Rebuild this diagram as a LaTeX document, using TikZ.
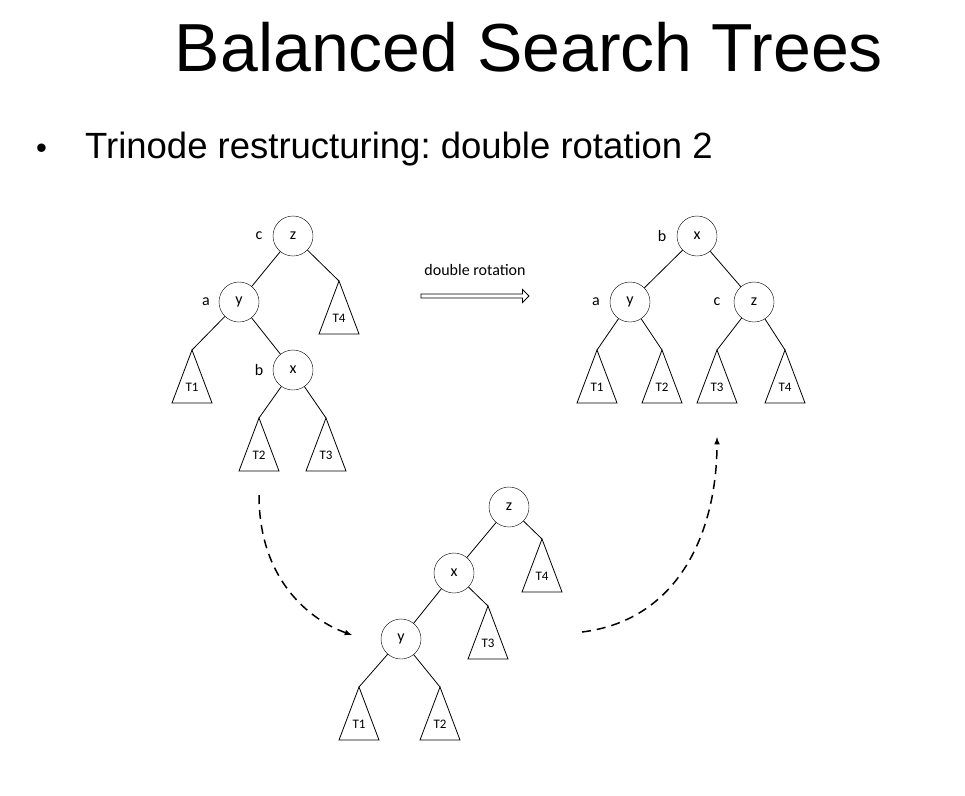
\documentclass[tikz,border=0pt]{standalone}
\usepackage{fontspec}
\setmainfont{Liberation Sans}
\newfontfamily\calfnt{Carlito}
\usetikzlibrary{shapes.arrows}
\frenchspacing
\begin{document}
\begin{tikzpicture}[x=1pt,y=-1pt,
  nd/.style={circle,draw,minimum size=40pt,inner sep=0pt,font=\calfnt\fontsize{16}{18}\selectfont},
  lb/.style={font=\calfnt\fontsize{16}{18}\selectfont},
  tl/.style={font=\calfnt\fontsize{13}{15}\selectfont},
  tri/.style={draw,line width=0.8pt},
  ed/.style={line width=0.8pt},
  dsh/.style={line width=1.5pt,dash pattern=on 9pt off 6pt,-latex}]
\useasboundingbox (0,0) rectangle (965,795);
\node[font=\fontsize{68}{76}\selectfont] (title) at (529,47) {Balanced Search Trees};
\node[anchor=base west,inner sep=0pt] (bulm) at (36,158) {\fontsize{31}{36}\selectfont •};
\node[anchor=base west,inner sep=0pt,font=\fontsize{36.5}{42}\selectfont] (bul) at (85,158) {Trinode restructuring: double rotation 2};
% tree 1
\node[nd] (z1) at (293,236) {z};
\node[nd] (y1) at (239,302) {y};
\node[nd] (x1) at (293,370) {x};
\node[lb] (c1) at (259,236) {c};
\node[lb] (a1) at (206,302) {a};
\node[lb] (b1) at (259,370) {b};
\coordinate (A4) at (339,281); \draw[tri] (A4) -- ++(20,53) -- ++(-40,0) -- cycle; \node[tl] (t14) at (339,318) {T4};
\coordinate (A1) at (192,350); \draw[tri] (A1) -- ++(20,53) -- ++(-40,0) -- cycle; \node[tl] (t11) at (192,387) {T1};
\coordinate (A2) at (259,418); \draw[tri] (A2) -- ++(20,53) -- ++(-40,0) -- cycle; \node[tl] (t12) at (259,455) {T2};
\coordinate (A3) at (326,418); \draw[tri] (A3) -- ++(20,53) -- ++(-40,0) -- cycle; \node[tl] (t13) at (326,455) {T3};
\draw[ed] (z1) -- (y1); \draw[ed] (z1) -- (A4); \draw[ed] (y1) -- (A1); \draw[ed] (y1) -- (x1);
\draw[ed] (x1) -- (A2); \draw[ed] (x1) -- (A3);
% arrow
\node[lb] (dr) at (475,270) {double rotation};
\node[single arrow,draw,line width=0.8pt,minimum height=108pt,minimum width=13pt,single arrow head extend=3pt,inner sep=1pt] (arr) at (474,296) {};
% tree 2
\node[nd] (x2) at (697,236) {x};
\node[nd] (y2) at (630,302) {y};
\node[nd] (z2) at (754,302) {z};
\node[lb] (b2) at (662,236) {b};
\node[lb] (a2) at (596,302) {a};
\node[lb] (c2) at (717,302) {c};
\coordinate (B1) at (597,350); \draw[tri] (B1) -- ++(20,53) -- ++(-40,0) -- cycle; \node[tl] (t21) at (597,387) {T1};
\coordinate (B2) at (662,350); \draw[tri] (B2) -- ++(20,53) -- ++(-40,0) -- cycle; \node[tl] (t22) at (662,387) {T2};
\coordinate (B3) at (717,350); \draw[tri] (B3) -- ++(20,53) -- ++(-40,0) -- cycle; \node[tl] (t23) at (717,387) {T3};
\coordinate (B4) at (785,350); \draw[tri] (B4) -- ++(20,53) -- ++(-40,0) -- cycle; \node[tl] (t24) at (785,387) {T4};
\draw[ed] (x2) -- (y2); \draw[ed] (x2) -- (z2);
\draw[ed] (y2) -- (B1); \draw[ed] (y2) -- (B2); \draw[ed] (z2) -- (B3); \draw[ed] (z2) -- (B4);
% tree 3
\node[nd] (z3) at (509,507) {z};
\node[nd] (x3) at (454,573) {x};
\node[nd] (y3) at (401,639) {y};
\coordinate (C4) at (542,539); \draw[tri] (C4) -- ++(20,53) -- ++(-40,0) -- cycle; \node[tl] (t34) at (542,576) {T4};
\coordinate (C3) at (488,606); \draw[tri] (C3) -- ++(20,53) -- ++(-40,0) -- cycle; \node[tl] (t33) at (488,643) {T3};
\coordinate (C1) at (359,687); \draw[tri] (C1) -- ++(20,53) -- ++(-40,0) -- cycle; \node[tl] (t31) at (359,724) {T1};
\coordinate (C2) at (440,687); \draw[tri] (C2) -- ++(20,53) -- ++(-40,0) -- cycle; \node[tl] (t32) at (440,724) {T2};
\draw[ed] (z3) -- (x3); \draw[ed] (z3) -- (C4); \draw[ed] (x3) -- (y3); \draw[ed] (x3) -- (C3);
\draw[ed] (y3) -- (C1); \draw[ed] (y3) -- (C2);
% dashed arrows
\coordinate (s1) at (259,495); \coordinate (e1) at (352,635);
\coordinate (s2) at (582,632); \coordinate (e2) at (717,437);
\draw[dsh] (s1) .. controls (259,580) and (310,620) .. (e1);
\draw[dsh] (s2) .. controls (680,620) and (717,530) .. (e2);
\end{tikzpicture}
\end{document}
